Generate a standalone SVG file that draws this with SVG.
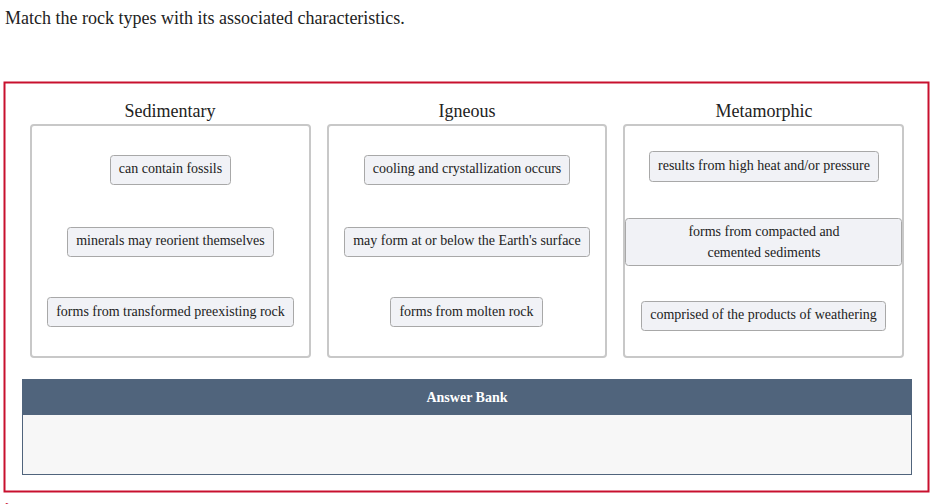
<svg xmlns="http://www.w3.org/2000/svg" width="940" height="504" viewBox="0 0 940 504">
<style>
text{font-family:"Liberation Serif",serif;fill:#222}
.h{font-size:18px;text-anchor:middle}
.c{font-size:14px;text-anchor:middle}
.col{fill:#fff;stroke:#c8c8c8;stroke-width:2}
.card{fill:#f1f2f6;stroke:#a8a8a8;stroke-width:1}
</style>
<rect width="940" height="504" fill="#fff"/>
<text x="5" y="24" style="font-size:18px">Match the rock types with its associated characteristics.</text>
<rect x="4.5" y="82.5" width="924" height="409" fill="none" stroke="#c8102e" stroke-width="2"/>
<g id="sedimentary">
<text class="h" x="170" y="117">Sedimentary</text>
<rect class="col" x="31" y="125" width="279" height="232" rx="3"/>
<g id="s1"><rect class="card" x="110.5" y="155.5" width="120" height="29" rx="3"/><text class="c" x="170.5" y="173">can contain fossils</text></g>
<g id="s2"><rect class="card" x="67.5" y="227.5" width="206" height="29" rx="3"/><text class="c" x="170.5" y="245">minerals may reorient themselves</text></g>
<g id="s3"><rect class="card" x="47.5" y="297.5" width="246" height="29" rx="3"/><text class="c" x="170.5" y="316">forms from transformed preexisting rock</text></g>
</g>
<g id="igneous">
<text class="h" x="467" y="117">Igneous</text>
<rect class="col" x="328" y="125" width="278" height="232" rx="3"/>
<g id="i1"><rect class="card" x="364.5" y="155.5" width="205" height="29" rx="3"/><text class="c" x="467" y="173">cooling and crystallization occurs</text></g>
<g id="i2"><rect class="card" x="344.5" y="227.5" width="245" height="29" rx="3"/><text class="c" x="467" y="245">may form at or below the Earth's surface</text></g>
<g id="i3"><rect class="card" x="390.5" y="297.5" width="152" height="29" rx="3"/><text class="c" x="466.5" y="316">forms from molten rock</text></g>
</g>
<g id="metamorphic">
<text class="h" x="764" y="117">Metamorphic</text>
<rect class="col" x="624" y="125" width="279" height="232" rx="3"/>
<g id="m1"><rect class="card" x="649.5" y="151.5" width="229" height="30" rx="3"/><text class="c" x="764" y="170">results from high heat and/or pressure</text></g>
<g id="m2"><rect class="card" x="625.5" y="218.5" width="276" height="47" rx="3"/><text class="c" x="764" y="236">forms from compacted and</text><text class="c" x="764" y="257">cemented sediments</text></g>
<g id="m3"><rect class="card" x="641.5" y="301.5" width="244" height="29" rx="3"/><text class="c" x="763.5" y="319">comprised of the products of weathering</text></g>
</g>
<g id="answerbank">
<rect x="22.5" y="414.5" width="889" height="60" fill="#f7f7f7" stroke="#50647c"/>
<rect x="22" y="379" width="890" height="36" fill="#50647c"/>
<text x="467" y="402" style="font-size:14px;font-weight:bold;fill:#fff;text-anchor:middle">Answer Bank</text>
</g>
<g id="connectors"/>
<text x="5" y="510" style="font-size:11px;fill:#c8102e">Incorrect</text>
</svg>
